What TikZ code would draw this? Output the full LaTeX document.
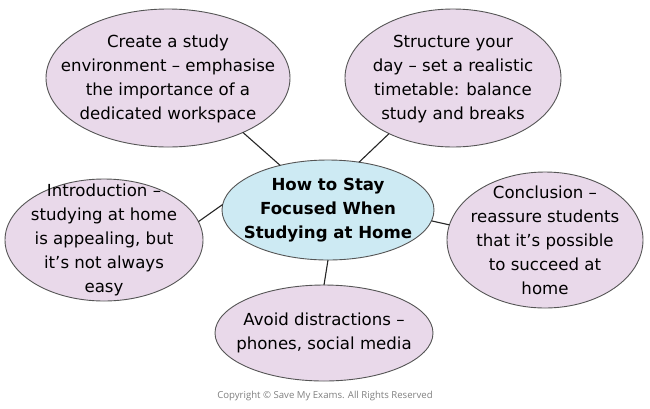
\documentclass[tikz,border=0pt]{standalone}
\usepackage{fontspec}
\setmainfont{DejaVu Sans}
\newfontfamily\copyfont{Open Sans}
\usetikzlibrary{shapes.geometric}
\definecolor{pinkfill}{HTML}{E9D9EA}
\definecolor{bluefill}{HTML}{CDEAF3}
\definecolor{edgegrey}{HTML}{555555}
\tikzset{
  bubble/.style={ellipse, draw=edgegrey, line width=0.9pt, fill=pinkfill, inner sep=0pt, outer sep=0pt},
  hub/.style={ellipse, draw=edgegrey, line width=0.9pt, fill=bluefill, inner sep=0pt, outer sep=0pt},
  btext/.style={align=center, inner sep=0pt, font=\fontsize{16.6}{24}\selectfont},
  htext/.style={align=center, inner sep=0pt, font=\fontsize{16.6}{24}\selectfont\bfseries},
  link/.style={draw=black!85, line width=1.1pt}
}
\begin{document}
\begin{tikzpicture}[x=1pt,y=-1pt]
\useasboundingbox (0,0) rectangle (650,408);
\fill[white] (0,0) rectangle (650,408);
\node[hub, minimum width=212pt, minimum height=100pt] (c) at (328,210) {};
\node[htext] (ct) at (328,210) {How to Stay\\Focused When\\Studying at Home};
\node[bubble, minimum width=244pt, minimum height=138pt] (tl) at (168,78) {};
\node[btext] (tlt) at (168,79)
  {Create a study\\environment -- emphasise\\the importance of a\\dedicated workspace};
\node[bubble, minimum width=216pt, minimum height=138pt] (tr) at (453,78) {};
\node[btext] (trt) at (453,79)
  {Structure your\\day -- set a realistic\\timetable: balance\\study and breaks};
\node[bubble, minimum width=198pt, minimum height=122pt] (l) at (104,240) {};
\node[btext] (lt) at (104,240)
  {Introduction --\\studying at home\\is appealing, but\\it’s not always\\easy};
\node[bubble, minimum width=196pt, minimum height=136pt] (r) at (545,240) {};
\node[btext] (rt) at (545,240)
  {Conclusion --\\reassure students\\that it’s possible\\to succeed at\\home};
\node[bubble, minimum width=218pt, minimum height=96pt] (b) at (324,333) {};
\node[btext] (bt) at (324,333)
  {Avoid distractions --\\phones, social media};
\draw[link] (tl.-36) -- (c.137);
\draw[link] (tr.221) -- (c.57);
\draw[link] (l.11) -- (c.177);
\draw[link] (r.171) -- (c.-6);
\draw[link] (c.270) -- (b.90);
\node[font=\copyfont\fontsize{9.6}{11}\selectfont, text=black!50] (cr) at (325,396)
  {Copyright © Save My Exams. All Rights Reserved};
\end{tikzpicture}
\end{document}
